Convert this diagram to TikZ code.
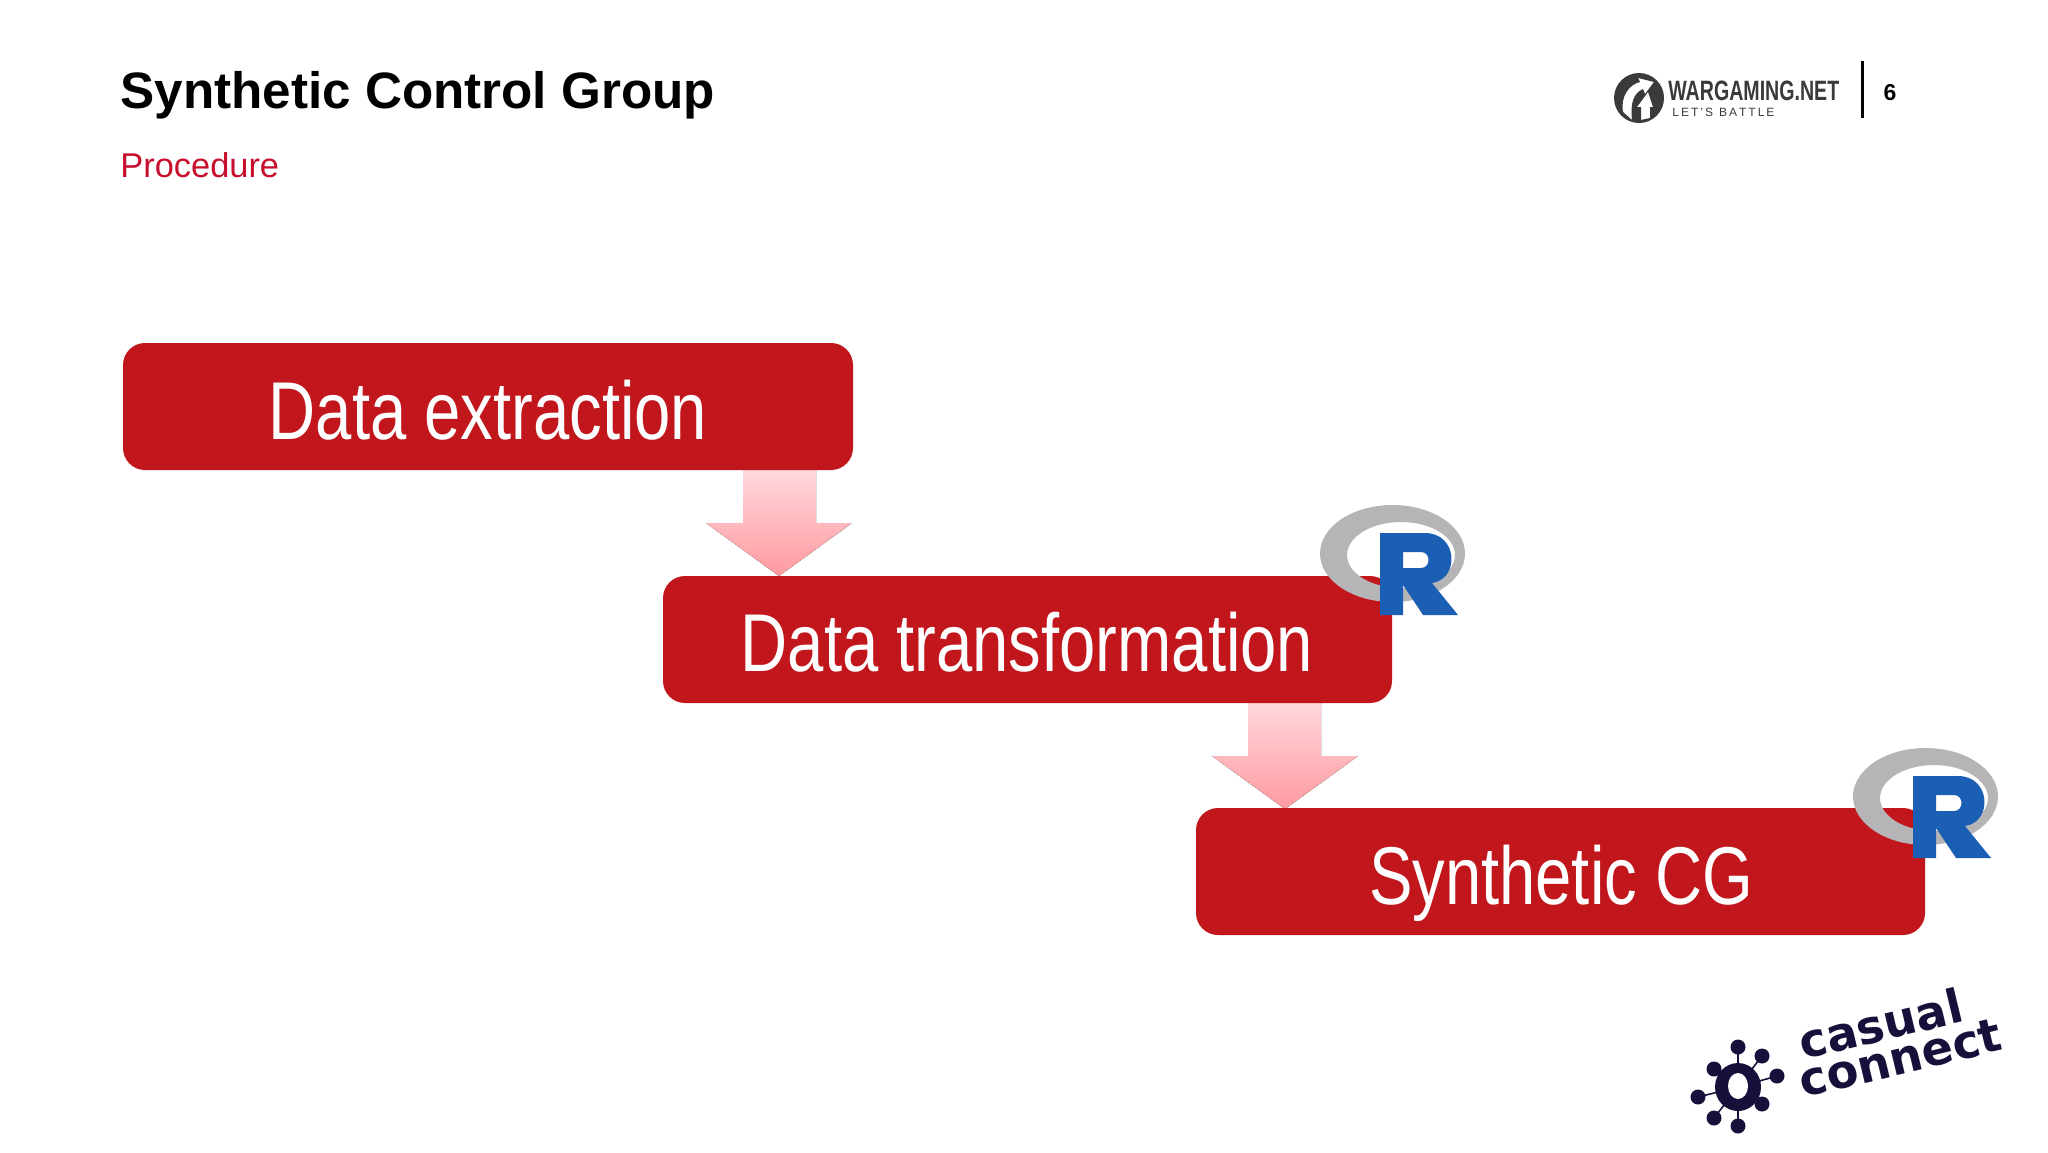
\documentclass[tikz,border=0pt]{standalone}
\usepackage{fontspec}
\setmainfont{Liberation Sans}
\newfontfamily\logofont{DejaVu Sans}
\usetikzlibrary{calc}
\definecolor{boxred}{HTML}{C2161D}
\definecolor{subred}{HTML}{C8102E}
\definecolor{navy}{HTML}{15113A}
\definecolor{wgdark}{HTML}{3A3A3A}
\definecolor{rblue}{HTML}{1B5FB5}
\definecolor{rgray}{HTML}{B5B5B7}
\definecolor{arrowtop}{HTML}{FFD8DC}
\definecolor{arrowbot}{HTML}{FF9AA0}
\tikzset{
  stagebox/.style={fill=boxred,rounded corners=11pt,inner sep=0pt},
  stagetext/.style={text=white,font=\fontsize{41}{41}\selectfont,xscale=.795,inner sep=0pt,anchor=base},
  flow/.style={shading=axis,top color=arrowtop,bottom color=arrowbot,shading angle=0,draw=none},
  castext/.style={anchor=base west,inner sep=0pt,text=navy,rotate=13.5,font=\logofont\bfseries\fontsize{23.2}{23.2}\selectfont},
  logoR/.pic={
    \fill[rgray,even odd rule] (72.5,48.5) ellipse[x radius=72.5,y radius=48.5]
       (81,50) ellipse[x radius=54,y radius=33];
    \fill[rblue,even odd rule] (60,28) -- (105,28) .. controls (138,28) and (140,74) .. (112,78)
       -- (138,110) -- (103,110) -- (83,80) -- (83,110) -- (60,110) -- cycle
       (83,47) -- (83,63) -- (101,63) .. controls (111,63) and (111,47) .. (101,47) -- cycle;
  }
}
\begin{document}
\begin{tikzpicture}[x=.5pt,y=-.5pt]
\useasboundingbox (0,0) rectangle (2048,1152);
\fill[white] (0,0) rectangle (2048,1152);
% heading
\node[anchor=base west,inner sep=0pt,font=\fontsize{25.6}{25.6}\selectfont\bfseries] (title) at (120,108) {Synthetic Control Group};
\node[anchor=base west,inner sep=0pt,text=subred,font=\fontsize{17.2}{17.2}\selectfont] (sub) at (120,177) {Procedure};
% header right
\fill[wgdark,even odd rule] (1639,98) circle (25)
  (1623,112) .. controls (1620,96) and (1630,84) .. (1640,82) -- (1638,78) -- (1654,82) -- (1645,94)
  -- (1643,89) .. controls (1634,93) and (1630,102) .. (1632,120) -- cycle
  (1641,120) -- (1641,107) -- (1637,107) -- (1648,92) -- (1653,107) -- (1650,107) -- (1650,118) -- cycle;
\node[anchor=base west,inner sep=0pt,text=wgdark,font=\fontsize{14}{14}\selectfont\bfseries,xscale=.70] (wg) at (1668,100) {WARGAMING.NET};
\node[anchor=base west,inner sep=0pt,text=wgdark,font=\fontsize{6}{6}\selectfont] (lb) at (1672,116) {L\,E\,T\,'\,S\,\,\,B\,A\,T\,T\,L\,E};
\draw[black,line width=1.5pt] (1862,61) -- (1862,118);
\node[anchor=center,inner sep=0pt,font=\fontsize{11.5}{11.5}\selectfont\bfseries] (pg) at (1890,93) {6};
% arrows
\fill[flow] (743,470) -- (816,470) -- (816,523) -- (852,523) -- (779,576) -- (706,523) -- (743,523) -- cycle;
\fill[flow] (1248,703) -- (1321,703) -- (1321,756) -- (1358,756) -- (1285,809) -- (1212,756) -- (1248,756) -- cycle;
% boxes
\fill[stagebox] (123,343) rectangle (853,470);
\fill[stagebox] (663,576) rectangle (1392,703);
\fill[stagebox] (1196,808) rectangle (1925,935);
\node[stagetext] (a) at (488,439) {Data extraction};
\node[stagetext] (b) at (1027,671) {Data transformation};
\node[stagetext] (c) at (1561,904) {Synthetic CG};
% R logos
\begin{scope}[shift={(1320,505)}] \pic {logoR}; \end{scope}
\begin{scope}[shift={(1853,748)}] \pic {logoR}; \end{scope}
% casual connect
\begin{scope}[shift={(1738,1087)}]
  \foreach \p in {(0,-40),(24,-31),(39,-11),(24,17),(0,39),(-24,31),(-40,10),(-24,-18)} {
    \draw[navy,line width=.8pt] (0,0) -- \p;
    \fill[navy] \p circle (7.5);
  }
  \fill[navy] (0,0) ellipse[x radius=23,y radius=24];
  \fill[white] (0,-1) ellipse[x radius=10,y radius=13];
\end{scope}
\node[castext] (cas) at (1803,1060) {casual};
\node[castext] (con) at (1803,1098) {connect};
\end{tikzpicture}
\end{document}
